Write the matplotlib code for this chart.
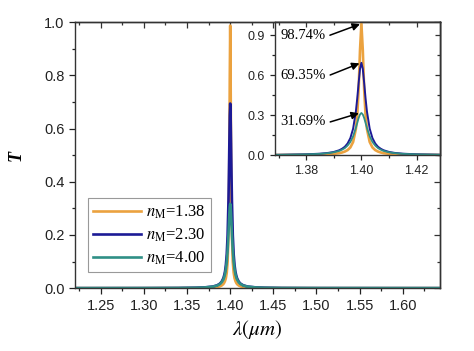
#!/usr/bin/env python3
# -*- coding: utf-8 -*-

import matplotlib
matplotlib.use("Agg")
import matplotlib.pyplot as plt
from matplotlib.ticker import MultipleLocator

plt.rcParams["mathtext.fontset"] = "stix"
plt.rcParams["font.family"] = ["Liberation Sans", "DejaVu Sans"]

# Transmission spectra (wavelength in um)
wavelength = [1.22, 1.30, 1.34, 1.36, 1.37, 1.38, 1.385, 1.388, 1.39, 1.392,
              1.393, 1.394, 1.395, 1.396, 1.397, 1.398, 1.3985, 1.399, 1.3995,
              1.400, 1.4005, 1.401, 1.4015, 1.402, 1.403, 1.404, 1.405, 1.406,
              1.407, 1.408, 1.41, 1.412, 1.415, 1.42, 1.43, 1.44, 1.46, 1.50,
              1.56, 1.643]

t_138 = [0.0001, 0.0001, 0.0003, 0.0006, 0.0011, 0.0025, 0.0044, 0.0068,
         0.0098, 0.015, 0.020, 0.027, 0.038, 0.058, 0.099, 0.197, 0.304,
         0.494, 0.790, 0.987, 0.790, 0.494, 0.304, 0.197, 0.099, 0.058,
         0.038, 0.027, 0.020, 0.015, 0.0098, 0.0068, 0.0044, 0.0025, 0.0011,
         0.0006, 0.0003, 0.0001, 0.0001, 0.0001]

t_230 = [0.0001, 0.0003, 0.0007, 0.0016, 0.0028, 0.0062, 0.011, 0.017,
         0.024, 0.037, 0.048, 0.063, 0.088, 0.128, 0.199, 0.329, 0.428,
         0.543, 0.649, 0.694, 0.649, 0.543, 0.428, 0.329, 0.199, 0.128,
         0.088, 0.063, 0.048, 0.037, 0.024, 0.017, 0.011, 0.0062, 0.0028,
         0.0016, 0.0007, 0.0003, 0.0002, 0.0001]

t_400 = [0.0001, 0.0003, 0.0006, 0.0014, 0.0025, 0.0057, 0.010, 0.0153,
         0.0215, 0.032, 0.041, 0.053, 0.072, 0.099, 0.142, 0.205, 0.242,
         0.279, 0.306, 0.317, 0.306, 0.279, 0.242, 0.205, 0.142, 0.099,
         0.072, 0.053, 0.041, 0.032, 0.0215, 0.0153, 0.010, 0.0057, 0.0025,
         0.0014, 0.0006, 0.0003, 0.0002, 0.0001]

labels = [r"$n_{\rm M}$=1.38", r"$n_{\rm M}$=2.30", r"$n_{\rm M}$=4.00"]
colors = ["#eba23f", "#1c1a96", "#2f8f86"]
peak_text = ["98.74%", "69.35%", "31.69%"]
peak_text_pos = [(1.3708, 0.90), (1.3708, 0.60), (1.3708, 0.25)]
peak_tip = [(1.3995, 0.985), (1.3993, 0.69), (1.3991, 0.315)]

series = [t_138, t_230, t_400]
SERIF = ["Liberation Serif", "DejaVu Serif"]


def style_axes(ax, xmaj, xmin, ymaj, ymin, size, maj_len, min_len):
    ax.xaxis.set_major_locator(MultipleLocator(xmaj))
    ax.xaxis.set_minor_locator(MultipleLocator(xmin))
    ax.yaxis.set_major_locator(MultipleLocator(ymaj))
    ax.yaxis.set_minor_locator(MultipleLocator(ymin))
    ax.tick_params(which="both", direction="out", labelsize=size,
                   colors="#222222", width=0.9)
    ax.tick_params(which="major", length=maj_len)
    ax.tick_params(which="minor", length=min_len)
    for s in ax.spines.values():
        s.set_color("#333333")
        s.set_linewidth(1.0)
    # mirrored ticks pointing inward on top / right
    top = ax.secondary_xaxis("top")
    right = ax.secondary_yaxis("right")
    top.xaxis.set_major_locator(MultipleLocator(xmaj))
    top.xaxis.set_minor_locator(MultipleLocator(xmin))
    right.yaxis.set_major_locator(MultipleLocator(ymaj))
    right.yaxis.set_minor_locator(MultipleLocator(ymin))
    for sec in (top, right):
        sec.tick_params(which="both", direction="in", labeltop=False,
                        labelright=False, colors="#333333", width=0.9)
        sec.tick_params(which="major", length=maj_len)
        sec.tick_params(which="minor", length=min_len)
        for s in sec.spines.values():
            s.set_color("#333333")
            s.set_linewidth(1.0)


fig = plt.figure(figsize=(4.74, 3.51), dpi=100)
ax = fig.add_axes([0.158, 0.179, 0.770, 0.758])

for y, c, lab in zip(series, colors, labels):
    ax.plot(wavelength, y, color=c, lw=1.9, label=lab)

ax.set_xlim(1.22, 1.643)
ax.set_ylim(0, 1.0)
style_axes(ax, 0.05, 0.025, 0.2, 0.1, 10.5, 4, 2.5)

ax.set_xlabel(r"$\lambda(\mu m)$", fontsize=15, labelpad=4)
ax.set_ylabel("T", fontsize=13, family=SERIF, style="italic",
              fontweight="bold", labelpad=14)

leg = ax.legend(loc="lower left", bbox_to_anchor=(0.036, 0.06),
                borderaxespad=0, fancybox=False, edgecolor="#999999",
                framealpha=1, handlelength=2.9, handletextpad=0.3,
                labelspacing=0.35, borderpad=0.3,
                prop={"family": SERIF, "size": 12})
leg.get_frame().set_linewidth(0.8)

# inset zoom on the resonance
axin = fig.add_axes([0.580, 0.558, 0.348, 0.379])
for y, c, w in zip(series, colors, [1.9, 1.4, 1.3]):
    axin.plot(wavelength, y, color=c, lw=w)
axin.set_xlim(1.3687, 1.4284)
axin.set_ylim(0, 1.0)
style_axes(axin, 0.02, 0.01, 0.3, 0.15, 9, 3.5, 2)

for txt, pos, tip in zip(peak_text, peak_text_pos, peak_tip):
    axin.annotate(txt, xy=tip, xytext=pos, ha="left", va="center",
                  fontsize=10.5, family=SERIF,
                  arrowprops=dict(arrowstyle="-|>", color="black", lw=1.1,
                                  mutation_scale=11, shrinkA=1, shrinkB=0,
                                  relpos=(1.0, 0.4)))

fig.savefig("out.png", dpi=100)
